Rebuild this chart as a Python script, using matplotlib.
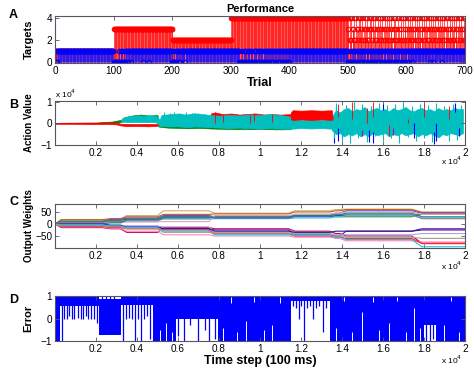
import numpy as np
import matplotlib
matplotlib.use('Agg')
import matplotlib.pyplot as plt

plt.rcParams['font.family'] = ['Liberation Sans', 'DejaVu Sans']

# ---- panel A: target per trial (block design) and outcome per trial
BLOCK_TARGET = [1, 3, 2, 4]
BLOCK_LEN = [100, 100, 100, 200]
MIXED_TARGETS = ('31422413342124313241' '42314213243142231443'
                 '12413242134123423142' '13243142314234121342'
                 '41321431243214123421' '34231432413214321432'
                 '14231432142314321423' '14324132413214234132'
                 '41324132413214324132' '42134123413241321432')
ERROR_TRIALS = [2, 3, 4,
                100, 101, 102, 103, 104, 105, 106, 107, 108, 110, 111, 113,
                114, 116, 118, 119, 120, 124, 130, 150, 160,
                200, 201, 202, 203, 205, 207, 211, 214, 222,
                315, 316, 317, 318, 320, 321, 323, 325, 327, 328, 330, 333,
                335, 336, 338, 340, 342, 345, 346, 349, 351, 353, 355, 357,
                358, 361, 364, 366, 368, 370, 372, 375, 377, 380, 383, 385,
                387, 390, 392, 395, 398, 400,
                500, 501, 502, 503, 505, 506, 508, 510, 512, 514, 515, 517,
                520, 522, 524, 527, 529, 531, 534, 536, 539, 541, 544, 546,
                549, 552, 554, 557, 560, 562, 565, 568, 571, 574, 577, 580,
                583, 586, 589, 592, 595, 598, 601, 605, 609,
                640, 645, 660]

# ---- panel B: action value envelopes (time in 1e4 steps, value in 1e4)
GREEN_T = [0.0, 0.10, 0.20, 0.24, 0.28, 0.30, 0.32, 0.34, 0.38, 0.42, 0.46,
           0.50, 0.505, 0.55, 0.60, 0.65, 0.70, 0.76, 0.80, 0.90, 1.00,
           1.10, 1.15]
GREEN_HI = [0.01, 0.02, 0.03, 0.06, 0.08, 0.12, 0.15, 0.28, 0.36, 0.40,
            0.35, 0.38, -0.08, -0.12, -0.12, -0.15, -0.14, -0.16, -0.18,
            -0.20, -0.22, -0.22, -0.22]
GREEN_LO = [-0.01, -0.01, -0.01, 0.0, 0.02, 0.03, 0.05, 0.10, 0.12, 0.15,
            0.12, 0.10, -0.15, -0.20, -0.21, -0.23, -0.21, -0.24, -0.25,
            -0.27, -0.26, -0.28, -0.27]

RED1_T = [0.0, 0.10, 0.20, 0.25, 0.30, 0.32, 0.35, 0.40, 0.45, 0.50]
RED1_HI = [0.02, 0.03, 0.03, 0.04, 0.03, -0.02, -0.03, -0.04, -0.03, -0.04]
RED1_LO = [-0.02, -0.02, -0.03, -0.03, -0.05, -0.10, -0.13, -0.12, -0.14,
           -0.12]

CYAN_T = [0.32, 0.33, 0.36, 0.40, 0.44, 0.48, 0.50, 0.51, 0.52, 0.56, 0.60,
          0.64, 0.68, 0.72, 0.76, 0.80, 0.85, 0.90, 0.95, 1.00, 1.05, 1.10,
          1.15, 1.20, 1.25, 1.30, 1.35]
CYAN_HI = [0.10, 0.25, 0.33, 0.36, 0.35, 0.38, 0.30, 0.15, 0.38, 0.42, 0.45,
           0.40, 0.46, 0.42, 0.38, 0.35, 0.38, 0.36, 0.40, 0.38, 0.42, 0.38,
           0.30, 0.15, 0.15, 0.15, 0.15]
CYAN_LO = [0.05, 0.08, 0.05, 0.06, 0.05, 0.06, 0.02, -0.12, -0.12, -0.15,
           -0.14, -0.18, -0.15, -0.16, -0.18, -0.20, -0.22, -0.20, -0.22,
           -0.25, -0.22, -0.25, -0.25, -0.22, -0.24, -0.22, -0.25]

RED2_T = [0.76, 0.78, 0.82, 0.86, 0.90, 0.94, 0.98, 1.02, 1.06, 1.10, 1.15]
RED2_HI = [0.45, 0.50, 0.42, 0.45, 0.40, 0.43, 0.45, 0.40, 0.42, 0.40, 0.42]
RED2_LO = [0.30, 0.28, 0.30, 0.32, 0.30, 0.28, 0.32, 0.30, 0.30, 0.32, 0.30]

REDBLK_T = [1.15, 1.16, 1.20, 1.25, 1.30, 1.35, 1.355]
REDBLK_HI = [0.50, 0.60, 0.58, 0.60, 0.58, 0.60, 0.20]
REDBLK_LO = [0.20, 0.15, 0.18, 0.15, 0.18, 0.15, 0.20]

LATE_T = [1.35, 1.37, 1.39, 1.41, 1.43, 1.45, 1.47, 1.49, 1.51, 1.53, 1.55,
          1.57, 1.59, 1.61, 1.63, 1.65, 1.67, 1.69, 1.71, 1.73, 1.75, 1.77,
          1.79, 1.81, 1.83, 1.85, 1.87, 1.89, 1.91, 1.93, 1.95, 1.97, 1.99]
LATE_HI = [0.30, 0.60, 0.50, 0.65, 0.70, 0.55, 0.65, 0.60, 0.75, 0.55, 0.65,
           0.70, 0.60, 0.65, 0.55, 0.70, 0.60, 0.65, 0.75, 0.60, 0.55, 0.65,
           0.70, 0.60, 0.65, 0.55, 0.70, 0.60, 0.65, 0.60, 0.70, 0.65, 0.65]
LATE_LO = [-0.30, -0.50, -0.45, -0.60, -0.50, -0.55, -0.45, -0.60, -0.50,
           -0.60, -0.45, -0.55, -0.50, -0.45, -0.60, -0.50, -0.55, -0.45,
           -0.55, -0.50, -0.45, -0.60, -0.50, -0.55, -0.45, -0.55, -0.65,
           -0.50, -0.55, -0.45, -0.50, -0.55, -0.45]

# cyan spikes sticking out of the envelopes: time, low, high
CYAN_SPK_T = [0.53, 0.56, 0.58, 0.61, 0.64, 0.67, 0.70, 0.73, 0.84, 0.92,
              1.08, 1.36, 1.37, 1.40, 1.42, 1.44, 1.46, 1.48, 1.50, 1.52,
              1.54, 1.56, 1.58, 1.60, 1.62, 1.64, 1.66, 1.68, 1.70, 1.72,
              1.74, 1.76, 1.78, 1.80, 1.82, 1.84, 1.86, 1.88, 1.90, 1.92,
              1.94, 1.96, 1.98]
CYAN_SPK_LO = [0.1, 0.0, 0.1, 0.0, 0.1, 0.0, 0.1, 0.0, -0.3, -0.3, -0.3,
               -0.7, 0.0, -0.8, 0.0, -0.9, 0.0, -0.7, 0.0, -0.85, 0.0, -0.6,
               0.0, -0.8, 0.0, -0.7, 0.0, -0.9, 0.0, -0.65, 0.0, -0.8, 0.0,
               -0.7, 0.0, -0.85, 0.0, -0.6, 0.0, -0.8, 0.0, -0.75, 0.0]
CYAN_SPK_HI = [0.50, 0.48, 0.52, 0.46, 0.50, 0.45, 0.48, 0.44, 0.0, 0.0,
               0.0, 0.0, 0.95, 0.0, 0.85, 0.0, 1.0, 0.0, 0.9, 0.0, 0.8, 0.0,
               0.95, 0.0, 0.85, 0.0, 0.9, 0.0, 1.0, 0.0, 0.8, 0.0, 0.9, 0.0,
               0.85, 0.0, 0.95, 0.0, 0.8, 0.0, 0.9, 0.0, 0.85]

RED_SPK_T = [0.78, 0.82, 0.95, 0.97, 1.06, 1.38, 1.45, 1.52, 1.55, 1.60,
             1.63, 1.70, 1.72, 1.80, 1.92]
RED_SPK_LO = [0.0, 0.05, 0.0, 0.1, 0.05, 0.3, 0.2, -0.4, 0.3, -0.5, -0.6,
              0.4, -0.5, 0.3, 0.2]
RED_SPK_HI = [0.5, 0.4, 0.4, 0.45, 0.42, 0.9, 1.0, 0.7, 1.0, -0.2, -0.1,
              1.0, 0.2, 0.9, 0.8]
BLUE_SPK_T = [1.36, 1.38, 1.40, 1.53, 1.55, 1.60, 1.75, 1.85, 1.86, 1.95,
              1.97]
BLUE_SPK_LO = [-0.9, -0.8, -0.7, -0.85, -0.9, 0.6, -0.7, -0.95, -0.8, 0.5,
               -0.6]
BLUE_SPK_HI = [-0.3, -0.2, -0.2, -0.3, -0.4, 0.9, 0.0, -0.4, 0.0, 0.95,
               -0.2]
MAG_SPK_T = [1.50, 1.65]
MAG_SPK_LO = [-0.6, -0.55]
MAG_SPK_HI = [-0.3, -0.2]

# ---- panel C: output weights, one level per learning stage
W_T = [0, 0.03, 0.23, 0.27, 0.32, 0.35, 0.50, 0.53, 0.75, 0.78, 1.14, 1.17,
       1.34, 1.37, 1.39, 1.42, 1.74, 1.79, 2.0]
W_LEVELS = [
    [15, 20, 35, 55, 45, 55, 60, 62, 50],
    [18, 22, 30, 40, 42, 50, 55, 60, 48],
    [10, 15, 20, 30, 25, 30, 35, 35, 40],
    [12, 15, 22, 25, 28, 35, 30, 30, 40],
    [5, 10, 15, 20, 22, 25, 30, 35, 25],
    [8, 10, 12, 25, 30, 38, 40, 40, 22],
    [5, 20, 25, 35, 30, 40, 45, 55, 45],
    [3, 5, 8, 10, 35, 40, 45, 50, 40],
    [0, 5, 18, 28, 25, 35, 38, 45, 30],
    [-15, -20, -35, -15, -20, -30, -40, -50, -80],
    [-12, -18, -30, -45, -50, -55, -60, -70, -75],
    [-5, -10, -10, -20, -25, -45, -50, -30, -20],
    [-2, -5, -8, -12, -35, -40, -45, -45, -40],
    [0, -5, -15, -20, -30, -35, -30, -30, -25],
    [-10, -15, -20, -25, -40, -50, -55, -60, -82],
    [-3, -8, -15, -30, -45, -48, -55, -65, -95],
    [-8, -12, -20, -35, -38, -42, -50, -55, -60],
]
W_COLORS = ['#c8b560', '#b5651d', '#1f3fbf', '#2e8b57', '#40c0e0', '#808080',
            '#8040c0', '#e0a0c0', '#208080', '#c00060', '#ff80c0', '#8000c0',
            '#b0a0e0', '#202080', '#ff2020', '#20c0e0', '#a0a080']

# ---- panel D: error bands, downward spikes, and gaps in the dense parts
D_T0 = [0.00, 0.025, 0.215, 0.32, 0.48, 0.59, 0.795, 1.15, 1.34, 1.80, 1.86]
D_T1 = [0.025, 0.215, 0.32, 0.48, 0.59, 0.795, 1.15, 1.34, 1.80, 1.86, 2.00]
D_LO = [-1, 0.55, -0.75, 0.6, -1, 0.0, -1, 0.8, -1, -0.3, -1]
D_HI = [1, 1, 0.88, 1, 1, 1, 1, 1, 1, 1, 1]
D_SPK_T = [0.035, 0.045, 0.06, 0.07, 0.085, 0.095, 0.11, 0.125, 0.135, 0.15,
           0.16, 0.175, 0.19, 0.205, 0.23, 0.25, 0.27, 0.29,
           0.33, 0.345, 0.36, 0.375, 0.39, 0.405, 0.42, 0.435, 0.45, 0.465,
           0.60, 0.63, 0.66, 0.70, 0.73, 0.75, 0.78,
           1.16, 1.175, 1.19, 1.20, 1.215, 1.23, 1.245, 1.26, 1.275, 1.29,
           1.305, 1.32, 1.81, 1.83, 1.845]
D_SPK_LO = [-1, 0, 0, 0.1, 0, 0, 0.05, 0, 0, 0.1, 0, 0, 0, -0.2,
            0.85, 0.85, 0.85, 0.85,
            -1, 0, 0.05, 0, -1, 0, -1, 0, 0.1, -0.9,
            -0.8, -1, -0.3, -1, -0.5, -1, -0.9,
            0.55, 0.5, 0, 0.55, -1, 0.5, 0.55, 0, 0.5, 0.55, -0.6, 0.5,
            -1, -1, -0.9]
D_GAP_T = [0.51, 0.54, 0.57, 0.82, 0.86, 0.89, 0.93, 0.97, 1.02, 1.06, 1.10,
           1.37, 1.41, 1.45, 1.50, 1.55, 1.58, 1.63, 1.67, 1.71, 1.75, 1.78,
           1.90, 1.93, 1.97]
D_GAP_LO = [-1, -1, -1, -1, 0.7, -1, -1, 0.75, -1, -1, 0.7,
            -1, 0.8, -1, -1, 0.75, -1, -1, 0.8, -1, -1, -1,
            -1, 0.8, -1]
D_GAP_HI = [-0.5, -0.2, -0.6, -0.4, 0.95, -0.6, -0.1, 0.95, -0.5, -0.3, 0.95,
            -0.4, 0.95, -0.6, 0.3, 0.95, -0.5, -0.2, 0.95, -0.6, 0.5, -0.4,
            -0.3, 0.95, -0.6]

XT = [0.2, 0.4, 0.6, 0.8, 1.0, 1.2, 1.4, 1.6, 1.8, 2.0]
XTL = ['0.2', '0.4', '0.6', '0.8', '1', '1.2', '1.4', '1.6', '1.8', '2']
EDGE = '#555566'

fig = plt.figure(figsize=(4.74, 3.69), dpi=100)
axA = fig.add_axes([0.116, 0.829, 0.865, 0.127])
axB = fig.add_axes([0.116, 0.607, 0.865, 0.119])
axC = fig.add_axes([0.116, 0.328, 0.865, 0.119])
axD = fig.add_axes([0.116, 0.076, 0.865, 0.122])


def style(ax):
    for s in ax.spines.values():
        s.set_color(EDGE)
        s.set_linewidth(0.8)
    ax.tick_params(direction='in', length=3, width=0.6, colors=EDGE,
                   labelcolor='black', labelsize=7.2, top=True, right=True,
                   pad=2)


# A
trials = np.arange(1, 701)
targets = np.concatenate([np.repeat(BLOCK_TARGET, BLOCK_LEN),
                          [int(c) for c in MIXED_TARGETS]])
outcome = np.ones(700)
outcome[np.array(ERROR_TRIALS) - 1] = 0
axA.vlines(trials, 0, targets, color='#ff1010', lw=0.5)
axA.plot(trials, targets, 'o', mfc='none', mec='#ff0000', ms=3.2, mew=0.8)
axA.vlines(trials, 0, outcome, color='#1a1aff', lw=0.5)
axA.plot(trials, outcome, 'o', mfc='none', mec='#0000ff', ms=3.2, mew=0.8)
axA.set_xlim(0, 700)
axA.set_ylim(-0.1, 4.2)
axA.set_xticks(range(0, 701, 100))
axA.set_yticks([0, 2, 4])
axA.set_title('Performance', fontsize=8, fontweight='bold', pad=3)
axA.set_xlabel('Trial', fontsize=9, fontweight='bold', labelpad=1)
axA.set_ylabel('Targets', fontsize=8, fontweight='bold')
style(axA)

# B
axB.fill_between(GREEN_T, GREEN_LO, GREEN_HI, color='#008000', lw=0.5)
axB.fill_between(RED1_T, RED1_LO, RED1_HI, color='#ff0000', lw=0.5)
axB.fill_between(RED2_T, RED2_LO, RED2_HI, color='#ff0000', lw=0.5)
axB.vlines(BLUE_SPK_T, BLUE_SPK_LO, BLUE_SPK_HI, color='#0000ff', lw=0.8)
axB.vlines(MAG_SPK_T, MAG_SPK_LO, MAG_SPK_HI, color='#bf00bf', lw=0.8)
axB.vlines(RED_SPK_T, RED_SPK_LO, RED_SPK_HI, color='#ff0000', lw=0.6)
axB.fill_between(CYAN_T, CYAN_LO, CYAN_HI, color='#00bfbf', lw=0.5)
axB.fill_between(LATE_T, LATE_LO, LATE_HI, color='#00bfbf', lw=0.5)
axB.vlines(CYAN_SPK_T, CYAN_SPK_LO, CYAN_SPK_HI, color='#00bfbf', lw=0.8)
axB.fill_between(REDBLK_T, REDBLK_LO, REDBLK_HI, color='#ff0000', lw=0.5)
axB.set_ylim(-1, 1.02)
axB.set_yticks([-1, 0, 1])
axB.set_ylabel('Action Value', fontsize=7, fontweight='bold')

# C
for lev, col in zip(W_LEVELS, W_COLORS):
    y = [0] + [v for v in lev for _ in range(2)]
    axC.plot(W_T, y, color=col, lw=0.8)
axC.set_ylim(-100, 83)
axC.set_yticks([-50, 0, 50])
axC.set_ylabel('Output Weights', fontsize=7, fontweight='bold')

# D
for t0, t1, lo, hi in zip(D_T0, D_T1, D_LO, D_HI):
    axD.fill_between([t0, t1], lo, hi, color='#0000ff', lw=0)
axD.vlines(D_SPK_T, D_SPK_LO, 1, color='#0000ff', lw=0.9)
axD.vlines(D_GAP_T, D_GAP_LO, D_GAP_HI, color='white', lw=0.7)
axD.set_ylim(-1, 1.02)
axD.set_yticks([-1, 0, 1])
axD.set_ylabel('Error', fontsize=8, fontweight='bold')
axD.set_xlabel('Time step (100 ms)', fontsize=9, fontweight='bold',
               labelpad=1)

for ax in (axB, axC, axD):
    ax.set_xlim(0, 2.0)
    ax.set_xticks(XT)
    ax.set_xticklabels(XTL)
    style(ax)

for ax in (axA, axB, axC, axD):
    ax.yaxis.set_label_coords(-0.052, 0.5)

fig.text(0.116, 0.745, r'x 10$^4$', fontsize=6, ha='left', va='center')
for yy in (0.547, 0.263, 0.008):
    fig.text(0.975, yy, r'x 10$^4$', fontsize=6, ha='right', va='bottom')

for lab, yy in zip('ABCD', (0.959, 0.715, 0.453, 0.187)):
    fig.text(0.019, yy, lab, fontsize=9, fontweight='bold', ha='left',
             va='center')

fig.savefig('out.png', dpi=100)
